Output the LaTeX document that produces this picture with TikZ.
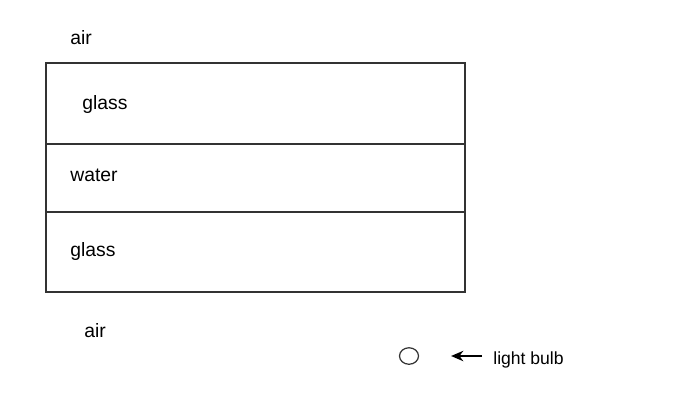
\documentclass[tikz,border=0pt]{standalone}
\usepackage{fontspec}
\setmainfont{Liberation Sans}
\usetikzlibrary{arrows.meta, shapes.geometric}

\begin{document}
\begin{tikzpicture}[x=0.02cm, y=-0.02cm]
	\tikzstyle{layer} = [draw=black!80, line width=0.6pt]
	\tikzstyle{lbl} = [anchor=west, inner sep=0pt, font=\fontsize{11}{13}\selectfont]
	\useasboundingbox (0,0) rectangle (675,400);
	% layers of the slab
	\draw [layer] (46,63) rectangle (465,144);
	\draw [layer] (46,144) rectangle (465,212);
	\draw [layer] (46,212) rectangle (465,292);
	\node [lbl] (airtop) at (70,38) {air};
	\node [lbl] (glasstop) at (82,104) {glass};
	\node [lbl] (water) at (70,175) {water};
	\node [lbl] (glassbot) at (70,251) {glass};
	\node [lbl] (airbot) at (84,331) {air};
	% bulb
	\node [draw=black!80, line width=0.7pt, ellipse, minimum width=0.38cm, minimum height=0.33cm, inner sep=0pt] (bulb) at (409,356) {};
	\node [lbl, font=\fontsize{10}{12}\selectfont] (bulblbl) at (493,360) {light bulb};
	\draw [-{Stealth[length=7pt,width=6pt]}, line width=0.7pt, shorten <=11*0.02cm, shorten >=32*0.02cm] (bulblbl.west |- bulb.east) -- (bulb.east);
\end{tikzpicture}
\end{document}
